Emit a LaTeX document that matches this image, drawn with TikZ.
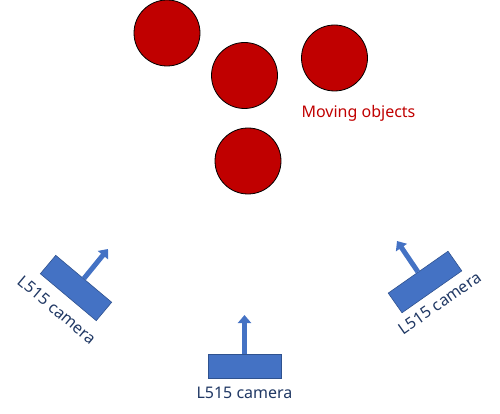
\documentclass[tikz,border=0pt]{standalone}
\usepackage{fontspec}
\setmainfont{Noto Sans}
\usetikzlibrary{arrows.meta}
\definecolor{camblue}{HTML}{4472C4}
\definecolor{camedge}{HTML}{2F528F}
\definecolor{labelblue}{HTML}{203864}
\definecolor{objred}{HTML}{C00000}

\begin{document}
\begin{tikzpicture}[x=1pt, y=-1pt,
		obj/.style = {draw=black, line width=0.8pt, fill=objred, circle, minimum size=66pt, inner sep=0pt},
		cam/.style = {draw=camedge, line width=0.6pt, fill=camblue, rectangle, minimum width=73pt, minimum height=24pt, inner sep=0pt},
		view/.style = {camblue, line width=5pt, -{Triangle[width=13pt, length=8pt]}},
		camlabel/.style = {text=labelblue, font=\fontsize{16}{18}\selectfont, inner sep=0pt}]
	\useasboundingbox (0,0) rectangle (500,414);
	% moving objects
	\node[obj] (o1) at (167,33) {};
	\node[obj] (o2) at (244.5,75.5) {};
	\node[obj] (o3) at (334.5,58) {};
	\node[obj] (o4) at (248,161) {};
	\node[text=objred, font=\fontsize{16}{18}\selectfont, inner sep=0pt] (objlabel) at (358.5,113) {Moving objects};
	% cameras
	\node[cam, rotate=-40] (c1) at (76,288) {};
	\node[cam, rotate=35] (c2) at (425,282) {};
	\node[cam] (c3) at (244.5,366) {};
	\coordinate (t1) at (108,249);
	\coordinate (t2) at (397,241);
	\coordinate (t3) at (244.5,315);
	\draw[view] (c1.north) -- (t1);
	\draw[view] (c2.north) -- (t2);
	\draw[view] (c3.north) -- (t3);
	\node[camlabel, rotate=-40] (l1) at (57,310) {L515 camera};
	\node[camlabel, rotate=35] (l2) at (440,303) {L515 camera};
	\node[camlabel] (l3) at (244.5,393) {L515 camera};
\end{tikzpicture}
\end{document}
